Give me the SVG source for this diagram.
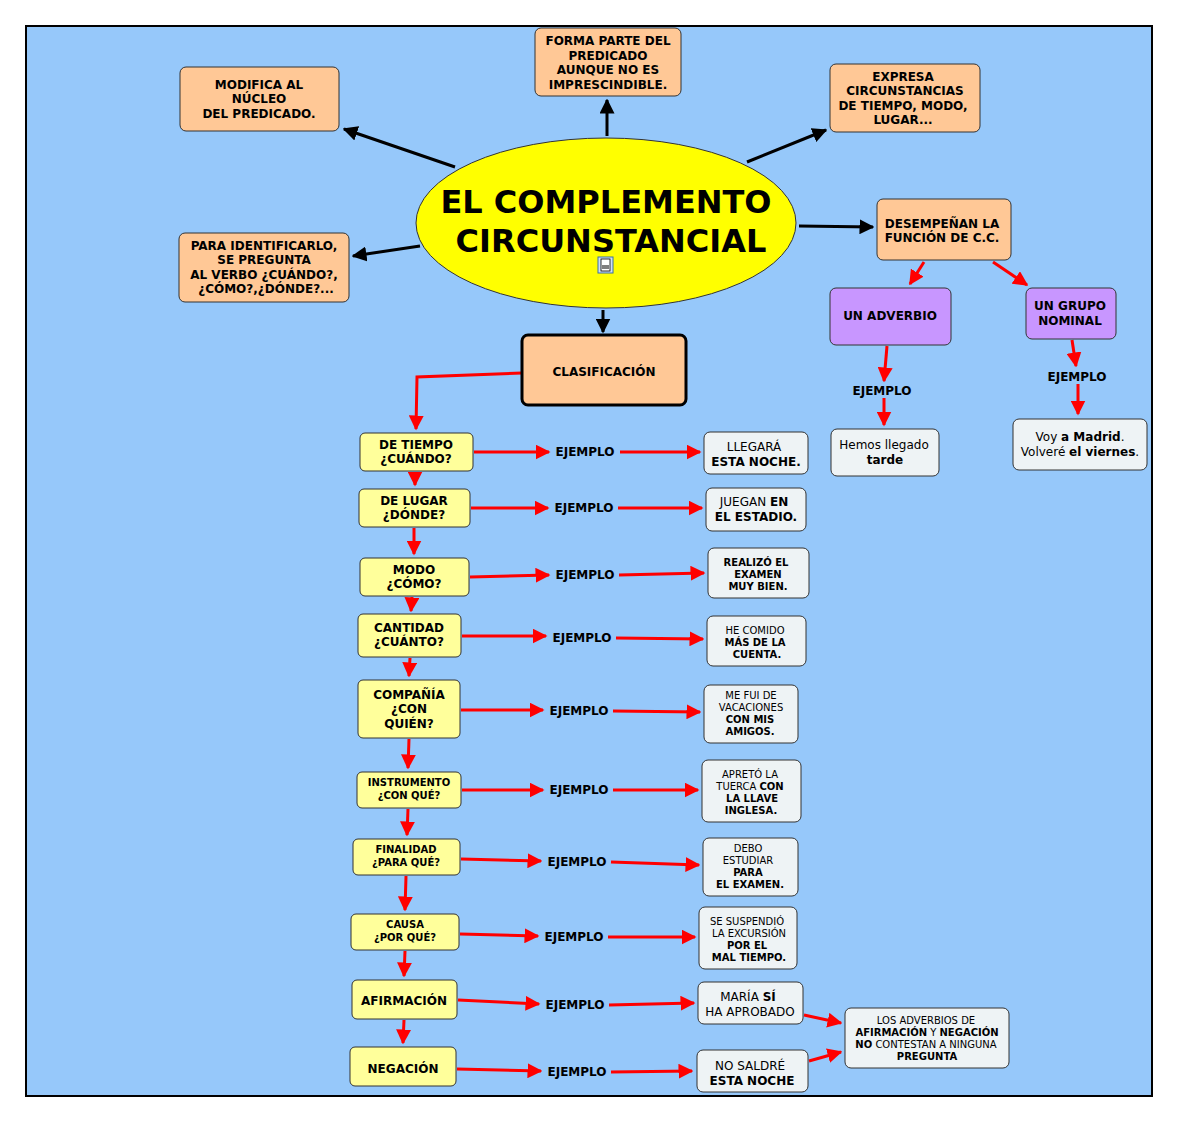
<svg xmlns="http://www.w3.org/2000/svg" width="1178" height="1123" viewBox="0 0 1178 1123">
<defs>
<marker id="ab" viewBox="0 0 10 10" refX="9" refY="5" markerWidth="5" markerHeight="5" orient="auto" markerUnits="strokeWidth"><path d="M0,0 L10,5 L0,10 z" fill="#000"/></marker>
<marker id="ar" viewBox="0 0 10 10" refX="9" refY="5" markerWidth="5" markerHeight="5" orient="auto" markerUnits="strokeWidth"><path d="M0,0 L10,5 L0,10 z" fill="#f00"/></marker>
<style>
text{font-family:"DejaVu Sans",Verdana,sans-serif;font-size:12px;text-anchor:middle;fill:#000}
.b{font-weight:bold}
.s{font-size:10px}
.p{fill:#ffc896;stroke:#333;stroke-width:1}
.v{fill:#c896ff;stroke:#333;stroke-width:1}
.y{fill:#ffff9b;stroke:#333;stroke-width:1}
.w{fill:#eef3f5;stroke:#333;stroke-width:1}
.k{stroke:#000;stroke-width:3;fill:none;marker-end:url(#ab)}
.r{stroke:#f00;stroke-width:3;fill:none;marker-end:url(#ar)}
</style>
</defs>
<rect x="26" y="26" width="1126" height="1070" fill="#96c8fa" stroke="#000" stroke-width="2"/>
<g id="connectors">
<line class="k" x1="455" y1="167" x2="344" y2="129"/>
<line class="k" x1="607" y1="136" x2="607" y2="100"/>
<line class="k" x1="747" y1="162" x2="826" y2="130"/>
<line class="k" x1="420" y1="246" x2="353" y2="256"/>
<line class="k" x1="799" y1="226" x2="873" y2="227"/>
<line class="k" x1="603" y1="310" x2="603" y2="332"/>
<line class="r" x1="924" y1="262" x2="910" y2="284"/>
<line class="r" x1="993" y1="262" x2="1027" y2="285"/>
<line class="r" x1="887" y1="346" x2="884" y2="381"/>
<line class="r" x1="884" y1="398" x2="884" y2="425"/>
<line class="r" x1="1072" y1="340" x2="1076" y2="366"/>
<line class="r" x1="1078" y1="384" x2="1078" y2="414"/>
<polyline class="r" points="522,373 417,377 416,429"/>
<line class="r" x1="415" y1="472" x2="415" y2="485"/>
<line class="r" x1="414" y1="528" x2="414" y2="554"/>
<line class="r" x1="412" y1="597" x2="411" y2="611"/>
<line class="r" x1="410" y1="658" x2="409" y2="676"/>
<line class="r" x1="409" y1="739" x2="408" y2="768"/>
<line class="r" x1="408" y1="809" x2="407" y2="835"/>
<line class="r" x1="406" y1="876" x2="405" y2="910"/>
<line class="r" x1="405" y1="951" x2="404" y2="976"/>
<line class="r" x1="404" y1="1020" x2="403" y2="1043"/>
<line class="r" x1="474" y1="452" x2="549" y2="452"/><line class="r" x1="620" y1="452" x2="700" y2="452"/>
<line class="r" x1="471" y1="508" x2="548" y2="508"/><line class="r" x1="618" y1="508" x2="702" y2="508"/>
<line class="r" x1="470" y1="577" x2="549" y2="575"/><line class="r" x1="619" y1="575" x2="704" y2="573"/>
<line class="r" x1="462" y1="636" x2="546" y2="636"/><line class="r" x1="616" y1="638" x2="703" y2="639"/>
<line class="r" x1="461" y1="710" x2="543" y2="710"/><line class="r" x1="613" y1="711" x2="700" y2="712"/>
<line class="r" x1="462" y1="790" x2="543" y2="790"/><line class="r" x1="613" y1="790" x2="698" y2="790"/>
<line class="r" x1="461" y1="859" x2="541" y2="861"/><line class="r" x1="611" y1="862" x2="699" y2="865"/>
<line class="r" x1="460" y1="934" x2="538" y2="936"/><line class="r" x1="608" y1="937" x2="695" y2="937"/>
<line class="r" x1="458" y1="1000" x2="539" y2="1004"/><line class="r" x1="609" y1="1005" x2="694" y2="1003"/>
<line class="r" x1="457" y1="1069" x2="541" y2="1071"/><line class="r" x1="611" y1="1072" x2="692" y2="1071"/>
<line class="r" x1="804" y1="1015" x2="841" y2="1023"/>
<line class="r" x1="809" y1="1061" x2="841" y2="1052"/>
</g>
<g id="n-modifica"><rect class="p" x="180" y="67" width="159" height="64" rx="6"/><text class="b" x="259" y="89">MODIFICA AL</text><text class="b" x="259" y="103">NÚCLEO</text><text class="b" x="259" y="118">DEL PREDICADO.</text></g>
<g id="n-forma"><rect class="p" x="535" y="28" width="146" height="68" rx="6"/><text class="b" x="608" y="45">FORMA PARTE DEL</text><text class="b" x="608" y="60">PREDICADO</text><text class="b" x="608" y="74">AUNQUE NO ES</text><text class="b" x="608" y="89">IMPRESCINDIBLE.</text></g>
<g id="n-expresa"><rect class="p" x="830" y="64" width="150" height="68" rx="6"/><text class="b" x="903" y="81">EXPRESA</text><text class="b" x="905" y="95">CIRCUNSTANCIAS</text><text class="b" x="903" y="110">DE TIEMPO, MODO,</text><text class="b" x="903" y="124">LUGAR...</text></g>
<g id="n-para"><rect class="p" x="179" y="233" width="170" height="69" rx="6"/><text class="b" x="264" y="250">PARA IDENTIFICARLO,</text><text class="b" x="264" y="264">SE PREGUNTA</text><text class="b" x="264" y="279">AL VERBO ¿CUÁNDO?,</text><text class="b" x="266" y="293">¿CÓMO?,¿DÓNDE?...</text></g>
<g id="n-main"><ellipse cx="606" cy="223" rx="190" ry="85" fill="#ffff00" stroke="#333" stroke-width="1"/><text class="b" x="606" y="213" style="font-size:32px">EL COMPLEMENTO</text><text class="b" x="611" y="252" style="font-size:32px">CIRCUNSTANCIAL</text><rect x="598" y="257" width="15" height="16" fill="#cfe0f5" stroke="#3a6ea5" stroke-width="1"/><rect x="601" y="259" width="9" height="12" fill="#fff" stroke="#000" stroke-width="0.8"/><line x1="602" y1="266" x2="609" y2="266" stroke="#000"/><line x1="602" y1="268" x2="609" y2="268" stroke="#000"/></g>
<g id="n-desempenan"><rect class="p" x="877" y="199" width="134" height="61" rx="6"/><text class="b" x="942" y="228">DESEMPEÑAN LA</text><text class="b" x="942" y="242">FUNCIÓN DE C.C.</text></g>
<g id="n-adverbio"><rect class="v" x="830" y="288" width="121" height="57" rx="6"/><text class="b" x="890" y="320">UN ADVERBIO</text></g>
<g id="n-grupo"><rect class="v" x="1026" y="288" width="90" height="51" rx="6"/><text class="b" x="1070" y="310">UN GRUPO</text><text class="b" x="1070" y="325">NOMINAL</text></g>
<g id="l-ej1"><text class="b" x="882" y="395">EJEMPLO</text></g>
<g id="l-ej2"><text class="b" x="1077" y="381">EJEMPLO</text></g>
<g id="n-hemos"><rect class="w" x="831" y="429" width="108" height="47" rx="6"/><text x="884" y="449">Hemos llegado</text><text class="b" x="885" y="464">tarde</text></g>
<g id="n-voy"><rect class="w" x="1013" y="419" width="134" height="51" rx="6"/><text x="1080" y="441">Voy <tspan class="b">a Madrid</tspan>.</text><text x="1080" y="456">Volveré <tspan class="b">el viernes</tspan>.</text></g>
<g id="n-clasif"><rect class="p" x="522" y="335" width="164" height="70" rx="6" style="stroke:#000;stroke-width:3"/><text class="b" x="604" y="376">CLASIFICACIÓN</text></g>
<g id="n-tiempo"><rect class="y" x="360" y="433" width="113" height="38" rx="5"/><text class="b" x="416" y="449">DE TIEMPO</text><text class="b" x="416" y="463">¿CUÁNDO?</text></g>
<g id="n-lugar"><rect class="y" x="359" y="489" width="111" height="38" rx="5"/><text class="b" x="414" y="505">DE LUGAR</text><text class="b" x="414" y="519">¿DÓNDE?</text></g>
<g id="n-modo"><rect class="y" x="360" y="558" width="109" height="38" rx="5"/><text class="b" x="414" y="574">MODO</text><text class="b" x="414" y="588">¿CÓMO?</text></g>
<g id="n-cantidad"><rect class="y" x="358" y="614" width="103" height="43" rx="5"/><text class="b" x="409" y="632">CANTIDAD</text><text class="b" x="409" y="646">¿CUÁNTO?</text></g>
<g id="n-compania"><rect class="y" x="358" y="680" width="102" height="58" rx="5"/><text class="b" x="409" y="699">COMPAÑÍA</text><text class="b" x="409" y="713">¿CON</text><text class="b" x="409" y="728">QUIÉN?</text></g>
<g id="n-instrumento"><rect class="y" x="357" y="772" width="104" height="36" rx="5"/><text class="b s" x="409" y="786">INSTRUMENTO</text><text class="b s" x="409" y="799">¿CON QUÉ?</text></g>
<g id="n-finalidad"><rect class="y" x="353" y="839" width="107" height="36" rx="5"/><text class="b s" x="406" y="853">FINALIDAD</text><text class="b s" x="406" y="866">¿PARA QUÉ?</text></g>
<g id="n-causa"><rect class="y" x="351" y="914" width="108" height="36" rx="5"/><text class="b s" x="405" y="928">CAUSA</text><text class="b s" x="405" y="941">¿POR QUÉ?</text></g>
<g id="n-afirmacion"><rect class="y" x="352" y="980" width="105" height="39" rx="5"/><text class="b" x="404" y="1005">AFIRMACIÓN</text></g>
<g id="n-negacion"><rect class="y" x="350" y="1047" width="106" height="39" rx="5"/><text class="b" x="403" y="1073">NEGACIÓN</text></g>
<g id="ejemplos">
<text class="b" x="585" y="456">EJEMPLO</text><text class="b" x="584" y="512">EJEMPLO</text><text class="b" x="585" y="579">EJEMPLO</text><text class="b" x="582" y="642">EJEMPLO</text><text class="b" x="579" y="715">EJEMPLO</text><text class="b" x="579" y="794">EJEMPLO</text><text class="b" x="577" y="866">EJEMPLO</text><text class="b" x="574" y="941">EJEMPLO</text><text class="b" x="575" y="1009">EJEMPLO</text><text class="b" x="577" y="1076">EJEMPLO</text>
</g>
<g id="n-llegara"><rect class="w" x="704" y="432" width="104" height="42" rx="6"/><text x="754" y="451">LLEGARÁ</text><text class="b" x="756" y="466">ESTA NOCHE.</text></g>
<g id="n-juegan"><rect class="w" x="706" y="488" width="100" height="43" rx="6"/><text x="754" y="506">JUEGAN <tspan class="b">EN</tspan></text><text class="b" x="756" y="521">EL ESTADIO.</text></g>
<g id="n-realizo"><rect class="w" x="708" y="548" width="101" height="50" rx="6"/><text class="b s" x="756" y="566">REALIZÓ EL</text><text class="b s" x="758" y="578">EXAMEN</text><text class="b s" x="758" y="590">MUY BIEN.</text></g>
<g id="n-comido"><rect class="w" x="707" y="616" width="99" height="50" rx="6"/><text class="s" x="755" y="634">HE COMIDO</text><text class="b s" x="755" y="646">MÁS DE LA</text><text class="b s" x="757" y="658">CUENTA.</text></g>
<g id="n-fui"><rect class="w" x="704" y="685" width="94" height="58" rx="6"/><text class="s" x="751" y="699">ME FUI DE</text><text class="s" x="751" y="711">VACACIONES</text><text class="b s" x="750" y="723">CON MIS</text><text class="b s" x="750" y="735">AMIGOS.</text></g>
<g id="n-apreto"><rect class="w" x="702" y="760" width="99" height="62" rx="6"/><text class="s" x="750" y="778">APRETÓ LA</text><text class="s" x="750" y="790">TUERCA <tspan class="b">CON</tspan></text><text class="b s" x="752" y="802">LA LLAVE</text><text class="b s" x="751" y="814">INGLESA.</text></g>
<g id="n-debo"><rect class="w" x="703" y="838" width="95" height="58" rx="6"/><text class="s" x="748" y="852">DEBO</text><text class="s" x="748" y="864">ESTUDIAR</text><text class="b s" x="748" y="876">PARA</text><text class="b s" x="750" y="888">EL EXAMEN.</text></g>
<g id="n-suspendio"><rect class="w" x="699" y="907" width="98" height="62" rx="6"/><text class="s" x="747" y="925">SE SUSPENDIÓ</text><text class="s" x="749" y="937">LA EXCURSIÓN</text><text class="b s" x="747" y="949">POR EL</text><text class="b s" x="749" y="961">MAL TIEMPO.</text></g>
<g id="n-maria"><rect class="w" x="698" y="982" width="105" height="42" rx="6"/><text x="748" y="1001">MARÍA <tspan class="b">SÍ</tspan></text><text x="750" y="1016">HA APROBADO</text></g>
<g id="n-saldre"><rect class="w" x="697" y="1050" width="111" height="42" rx="6"/><text x="750" y="1070">NO SALDRÉ</text><text class="b" x="752" y="1085">ESTA NOCHE</text></g>
<g id="n-adverbios"><rect class="w" x="845" y="1008" width="164" height="60" rx="6"/><text class="s" x="926" y="1024">LOS ADVERBIOS DE</text><text class="s" x="927" y="1036"><tspan class="b">AFIRMACIÓN</tspan> Y <tspan class="b">NEGACIÓN</tspan></text><text class="s" x="926" y="1048"><tspan class="b">NO</tspan> CONTESTAN A NINGUNA</text><text class="b s" x="927" y="1060">PREGUNTA</text></g>
</svg>
